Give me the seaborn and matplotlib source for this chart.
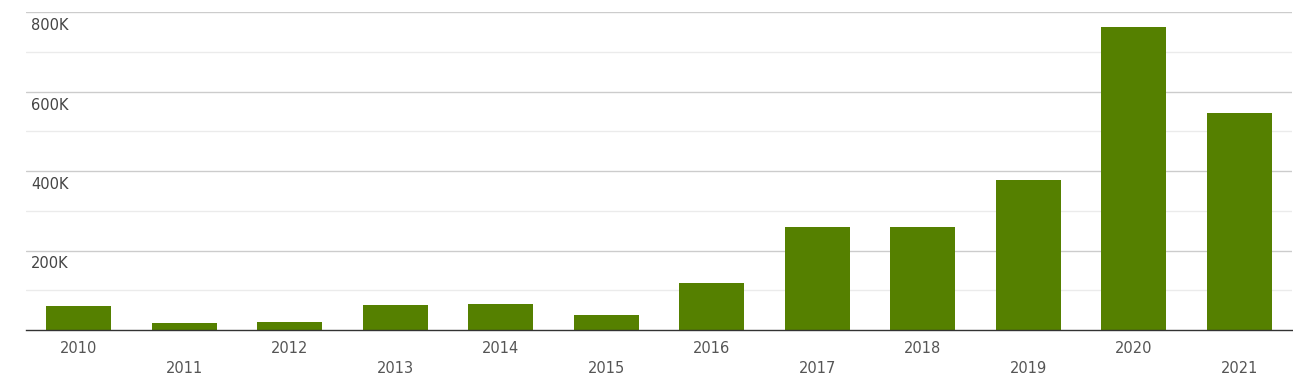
import matplotlib
matplotlib.use("Agg")
import matplotlib.pyplot as plt
import matplotlib.transforms as mtransforms
import seaborn as sns
import pandas as pd

years = ["2010", "2011", "2012", "2013", "2014", "2015", "2016", "2017", "2018", "2019", "2020", "2021"]
values = [60000, 18000, 20000, 63000, 65000, 38000, 118000, 259000, 259000, 378000, 762000, 547000]
ytick_values = [200000, 400000, 600000, 800000]
ytick_labels = ["200K", "400K", "600K", "800K"]

sns.set_theme(style="white")
plt.rcParams['font.family'] = ['DejaVu Sans']

df = pd.DataFrame({"year": years, "value": values})

fig = plt.figure(figsize=(12.93, 3.84), dpi=100)
ax = fig.add_axes([26/1293, 54/384, 1266/1293, 318/384])

sns.barplot(data=df, x="year", y="value", color="#558000", width=0.62,
            saturation=1, ax=ax, zorder=3, linewidth=0)

ax.set_xlim(-0.5, len(years) - 0.5)
ax.set_ylim(0, 800000)

# grid lines
for v in range(100000, 800001, 100000):
    major = v % 200000 == 0
    ax.axhline(v, color="#cccccc" if major else "#ebebeb", lw=1, zorder=1)

for s in ["top", "right", "left"]:
    ax.spines[s].set_visible(False)
ax.spines["bottom"].set_color("#333333")
ax.spines["bottom"].set_linewidth(1)
ax.spines["bottom"].set_zorder(4)

ax.set_yticks([])
ax.set_xlabel("")
ax.set_ylabel("")

labels = [y if i % 2 == 0 else "\n" + y for i, y in enumerate(years)]
ax.set_xticks(range(len(years)))
ax.set_xticklabels(labels, color="#555555", fontsize=10.5, linespacing=1.4)
ax.tick_params(axis="x", length=0, pad=8)

trans = mtransforms.blended_transform_factory(ax.transAxes, ax.transData)
off = mtransforms.ScaledTranslation(5/100, -6/100, fig.dpi_scale_trans)
for v, lab in zip(ytick_values, ytick_labels):
    ax.text(0, v, lab, transform=trans + off, ha="left", va="top",
            color="#444444", fontsize=10.5, zorder=5)

fig.savefig("out.png", dpi=100)
